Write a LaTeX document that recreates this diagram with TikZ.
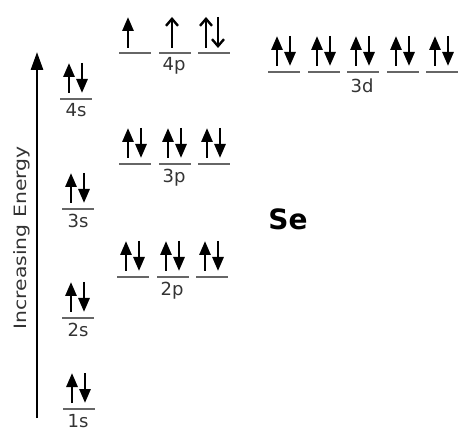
\documentclass[tikz,border=0pt]{standalone}
\usepackage{fontspec}
\setmainfont{DejaVu Sans}
\usetikzlibrary{arrows.meta}

\begin{document}
\begin{tikzpicture}[x=1pt,y=-1pt,
	level/.style={draw=black!60, line width=2.8pt},
	lbl/.style={font=\fontsize{18}{18}\selectfont, text=black!80, inner sep=0pt},
	spin/.style={line width=2.8pt, -{Triangle[width=11pt,length=14pt]}},
	spinopen/.style={line width=2.4pt, -{Straight Barb[width=12pt,length=7pt]}}]
		\useasboundingbox (0,0) rectangle (474,446);
		
		% orbital levels
		\foreach \nm/\cx/\cy in {o1s/79/409, o2s/78/318, o3s/78/209, o4s/76/99,
			o2pa/133/277, o2pb/173/277, o2pc/212/277,
			o3pa/135/164, o3pb/175/164, o3pc/214/164,
			o4pa/135/53, o4pb/175/53, o4pc/214/53,
			o3da/284/72, o3db/324/72, o3dc/363/72, o3dd/403/72, o3de/442/72}
		{
			\coordinate (\nm) at (\cx,\cy);
			\draw[level] (\cx-16,\cy) -- (\cx+16,\cy);
		}
		
		% paired electrons
		\foreach \o in {o1s,o2s,o3s,o4s,o2pa,o2pb,o2pc,o3pa,o3pb,o3pc,o3da,o3db,o3dc,o3dd,o3de}
		{
			\draw[spin] ([shift={(-7,-6)}]\o) -- ++(0,-30);
			\draw[spin] ([shift={(6,-36)}]\o) -- ++(0,30);
		}
		% 4p electrons
		\draw[spin] ([shift={(-7,-5)}]o4pa) -- ++(0,-31);
		\draw[spinopen] ([shift={(-3,-5)}]o4pb) -- ++(0,-31);
		\draw[spinopen] ([shift={(-8,-5)}]o4pc) -- ++(0,-31);
		\draw[spinopen] ([shift={(4,-36)}]o4pc) -- ++(0,31);
		
		% labels
		\node[lbl] (l1s) at (78,421) {1s};
		\node[lbl] (l2s) at (78,330) {2s};
		\node[lbl] (l3s) at (78,221) {3s};
		\node[lbl] (l4s) at (76,110) {4s};
		\node[lbl] (l2p) at (172,291) {2p};
		\node[lbl] (l3p) at (174,178) {3p};
		\node[lbl] (l4p) at (174,66) {4p};
		\node[lbl] (l3d) at (362,86) {3d};
		
		% energy axis
		\coordinate (ebot) at (37,418);
		\coordinate (etop) at (37,52);
		\draw[line width=2.7pt,-{Triangle[width=12pt,length=18pt]}] (ebot) -- (etop);
		\node[lbl, rotate=90, font=\fontsize{17}{17}\selectfont] (energy) at (22,238) {\scalebox{1.2}[1]{Increasing Energy}};
		
		\node[font=\bfseries\fontsize{28}{28}\selectfont, inner sep=0pt] (se) at (288,219) {Se};
\end{tikzpicture}
\end{document}
